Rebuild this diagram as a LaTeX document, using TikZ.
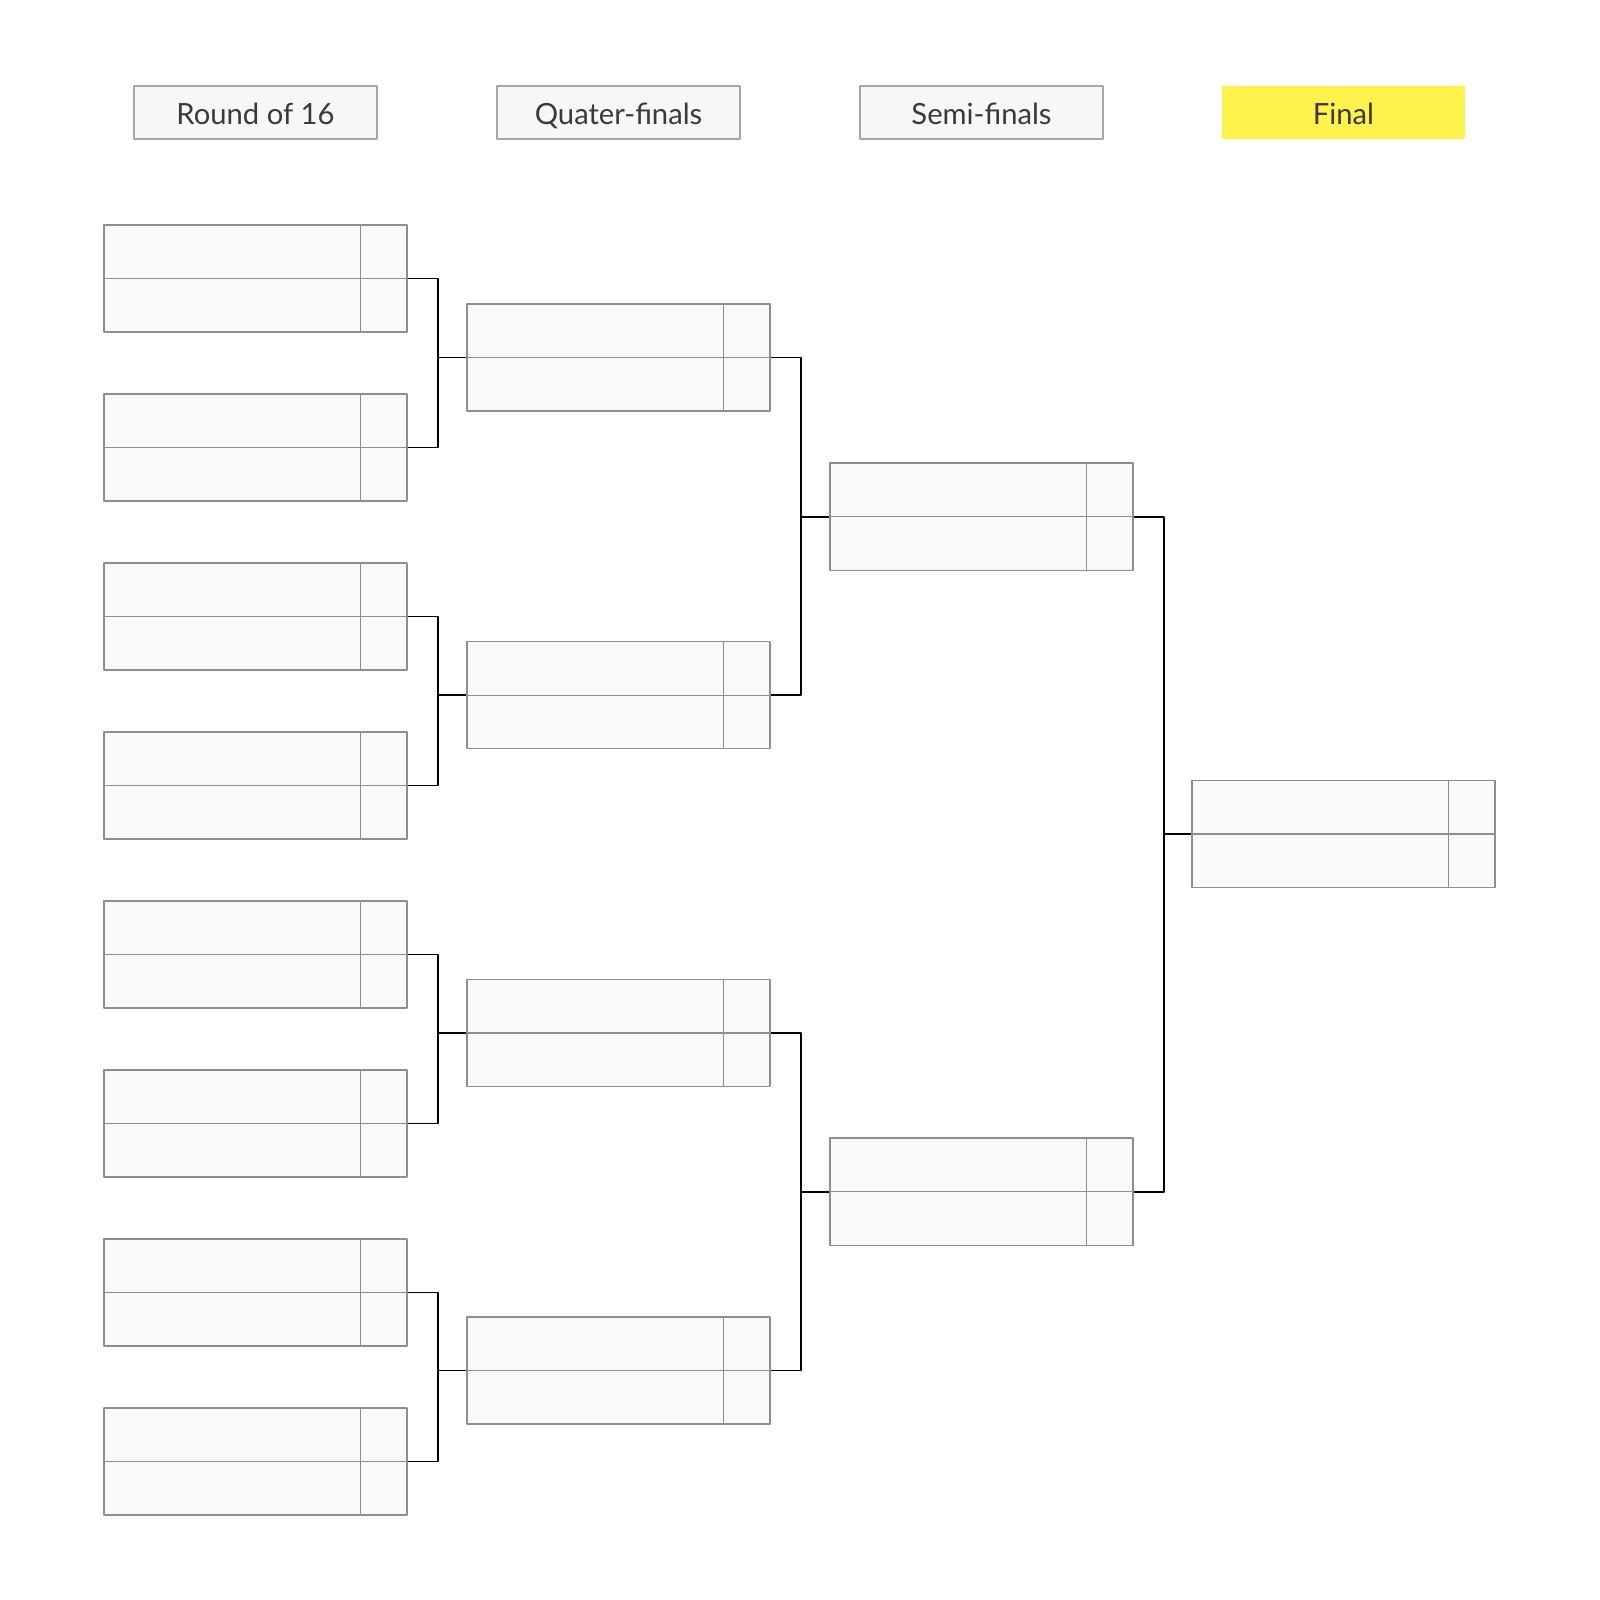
\documentclass[tikz,border=0pt]{standalone}
\usepackage{fontspec}
\setmainfont{Lato}
\definecolor{boxfill}{HTML}{F9F9F9}
\definecolor{boxline}{HTML}{8E8E8E}
\definecolor{titlefill}{HTML}{F7F7F7}
\definecolor{titleline}{HTML}{A6A6A6}
\definecolor{textgray}{HTML}{3A3A3A}
\definecolor{finalyellow}{HTML}{FFF24C}
\begin{document}
\begin{tikzpicture}[x=0.01cm, y=-0.01cm, font=\fontsize{8.3}{10}\selectfont, line join=round,
	match/.style={draw=boxline, fill=boxfill, line width=0.4pt, minimum width=3.03cm, minimum height=1.07cm, inner sep=0pt},
	title/.style={draw=titleline, fill=titlefill, text=textgray, line width=0.4pt, minimum width=2.43cm, minimum height=0.53cm, inner sep=0pt, text height=0.86em, text depth=0.2em},
	cell/.style={draw=boxline, line width=0.4pt},
	link/.style={draw=black, line width=0.5pt}]
	\useasboundingbox (0,0) rectangle (1600,1600);
	% round titles
	\node[title] (t1) at (255.5,112.5) {Round of 16};
	\node[title] (t2) at (618.5,112.5) {Quater-finals};
	\node[title] (t3) at (981.5,112.5) {Semi-finals};
	\node[title, draw=none, fill=finalyellow] (t4) at (1343.5,112.5) {Final};
	% match boxes
	\foreach \i/\y in {1/278.5, 2/447.5, 3/616.5, 4/785.5, 5/954.5, 6/1123.5, 7/1292.5, 8/1461.5}
		\node[match] (r\i) at (255.5,\y) {};
	\foreach \i/\y in {1/357.5, 2/695.2, 3/1032.9, 4/1370.6}
		\node[match] (q\i) at (618.5,\y) {};
	\node[match] (s1) at (981.5,516.7) {};
	\node[match] (s2) at (981.5,1191.7) {};
	\node[match] (f) at (1343.5,834) {};
	% name and score cells
	\foreach \n in {r1,r2,r3,r4,r5,r6,r7,r8,q1,q2,q3,q4,s1,s2,f} {
		\draw[cell] (\n.west) -- (\n.east);
		\draw[cell] ([xshift=-0.47cm]\n.north east) -- ([xshift=-0.47cm]\n.south east);
	}
	% brackets
	\draw[link] (r1.east) -- +(30,0) |- (q1.west);
	\draw[link] (r2.east) -- +(30,0) |- (q1.west);
	\draw[link] (r3.east) -- +(30,0) |- (q2.west);
	\draw[link] (r4.east) -- +(30,0) |- (q2.west);
	\draw[link] (r5.east) -- +(30,0) |- (q3.west);
	\draw[link] (r6.east) -- +(30,0) |- (q3.west);
	\draw[link] (r7.east) -- +(30,0) |- (q4.west);
	\draw[link] (r8.east) -- +(30,0) |- (q4.west);
	\draw[link] (q1.east) -- +(30,0) |- (s1.west);
	\draw[link] (q2.east) -- +(30,0) |- (s1.west);
	\draw[link] (q3.east) -- +(30,0) |- (s2.west);
	\draw[link] (q4.east) -- +(30,0) |- (s2.west);
	\draw[link] (s1.east) -- +(30,0) |- (f.west);
	\draw[link] (s2.east) -- +(30,0) |- (f.west);
\end{tikzpicture}
\end{document}
